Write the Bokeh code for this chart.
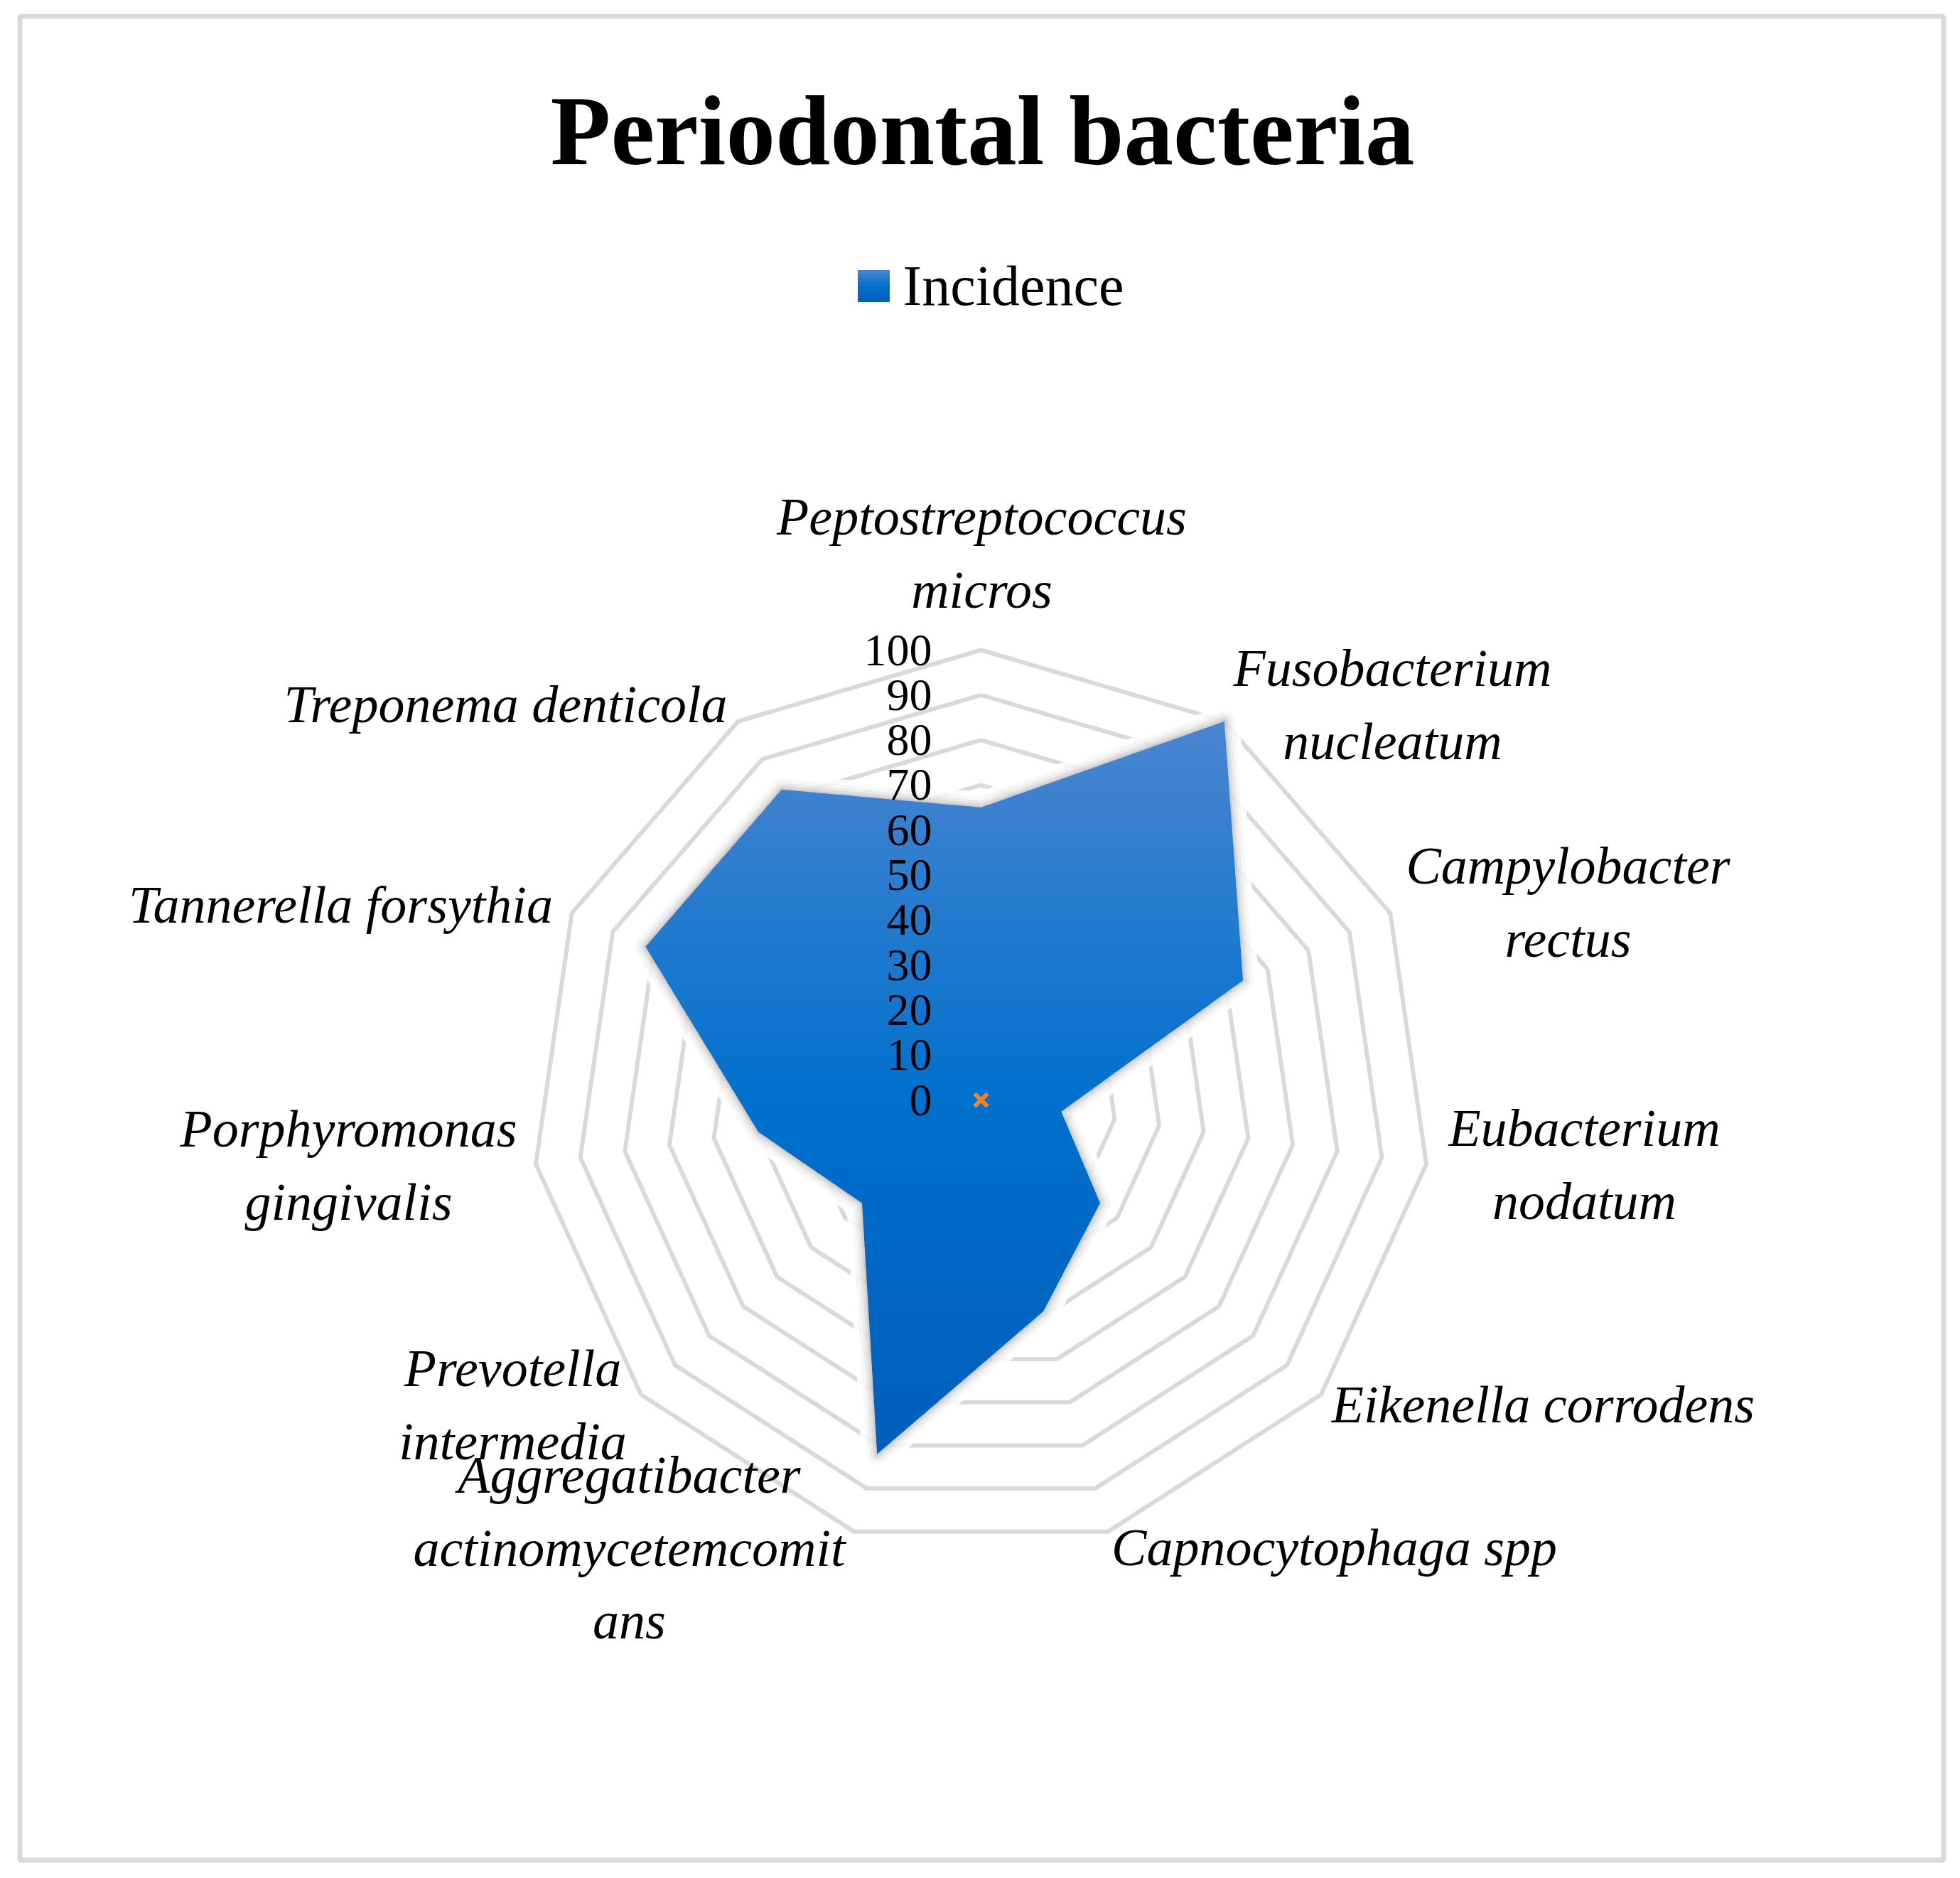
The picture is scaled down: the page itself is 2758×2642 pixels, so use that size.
import math
from bokeh.plotting import figure
from bokeh.models import Range1d, ColumnDataSource
from bokeh.core.properties import value
from bokeh.embed import file_html
from bokeh.resources import INLINE

# ---------------- data ----------------
categories = [
    "Peptostreptococcus\nmicros",
    "Fusobacterium\nnucleatum",
    "Campylobacter\nrectus",
    "Eubacterium\nnodatum",
    "Eikenella corrodens",
    "Capnocytophaga spp",
    "Aggregatibacter\nactinomycetemcomit\nans",
    "Prevotella\nintermedia",
    "Porphyromonas\ngingivalis",
    "Tannerella forsythia",
    "Treponema denticola",
]
incidence = [65, 100, 64, 18, 35, 49, 82, 35, 50, 82, 82]
ticks = [0, 10, 20, 30, 40, 50, 60, 70, 80, 90, 100]
second_series = [0]  # tiny orange series at the centre
series_name = "Incidence"
title_text = "Periodontal bacteria"

# ---------------- layout helpers (reference pixel -> data units) ----------------
S = 6.33          # pixels per unit of value
CX, CY = 1380, 1547
W, H = 2742, 2626


def ux(px):
    return (px - CX) / S


def uy(py):
    return (CY - py) / S


n = len(categories)
angles = [2 * math.pi * i / n for i in range(n)]


def polar(r, a):
    return r * math.sin(a), r * math.cos(a)


FONT = "Liberation Serif"

p = figure(width=W, height=H, output_backend="svg", toolbar_location=None,
           x_range=Range1d(ux(0), ux(W)), y_range=Range1d(uy(H), uy(0)),
           x_axis_type=None, y_axis_type=None, min_border=0)
p.grid.visible = False
p.outline_line_color = None
p.background_fill_color = "white"
p.border_fill_color = "white"

# outer chart border
p.quad(left=[ux(27.5)], right=[ux(2734.5)], top=[uy(22.5)], bottom=[uy(2616.5)],
       fill_color=None, line_color="#D9D9D9", line_width=7)

# grid rings
for r in ticks[1:]:
    xs = [polar(r, a)[0] for a in angles] + [polar(r, angles[0])[0]]
    ys = [polar(r, a)[1] for a in angles] + [polar(r, angles[0])[1]]
    p.line(xs, ys, line_color="#D9D9D9", line_width=6)

# data polygon
poly = [polar(v, a) for v, a in zip(incidence, angles)]
px_ = [q[0] for q in poly]
py_ = [q[1] for q in poly]

# soft shadow: white halo hiding the grid, then a grey blur near the edge
p.patch(px_, py_, fill_color=None, line_color="white", line_alpha=0.85,
        line_width=44, line_join="round")
for w_, al in [(30, 0.03), (20, 0.045), (12, 0.06), (5, 0.08)]:
    p.patch(px_, py_, fill_color=None, line_color="black", line_alpha=al,
            line_width=w_, line_join="round")


def grad_color(t):
    stops = [(0.0, (74, 134, 208)), (0.52, (0, 112, 205)), (1.0, (0, 95, 186))]
    for (t0, c0), (t1, c1) in zip(stops[:-1], stops[1:]):
        if t <= t1:
            f = (t - t0) / (t1 - t0) if t1 > t0 else 0
            c = [round(c0[k] + f * (c1[k] - c0[k])) for k in range(3)]
            return "#%02x%02x%02x" % tuple(c)
    return "#%02x%02x%02x" % stops[-1][1]


def clip(pts, y0, keep_above):
    out = []
    m = len(pts)
    for i in range(m):
        cur, prev = pts[i], pts[i - 1]
        cin = cur[1] >= y0 if keep_above else cur[1] <= y0
        pin = prev[1] >= y0 if keep_above else prev[1] <= y0
        if cin != pin:
            t = (y0 - prev[1]) / (cur[1] - prev[1])
            out.append((prev[0] + t * (cur[0] - prev[0]), y0))
        if cin:
            out.append(cur)
    return out


# vertical gradient fill: the polygon cut into thin horizontal slices
ymax, ymin = max(py_), min(py_)
NB = 70
overlap = 0.35
bx, by, bc = [], [], []
for b in range(NB):
    hi = ymax - (ymax - ymin) * b / NB
    lo = ymax - (ymax - ymin) * (b + 1) / NB - (overlap if b < NB - 1 else 0)
    part = clip(poly, hi, False)
    if part:
        part = clip(part, lo, True)
    if len(part) >= 3:
        bx.append([q[0] for q in part])
        by.append([q[1] for q in part])
        bc.append(grad_color((b + 0.5) / NB))
p.patches(xs="xs", ys="ys", fill_color="c", line_color=None,
          source=ColumnDataSource(dict(xs=bx, ys=by, c=bc)))

# small orange series marker at the centre
p.scatter(x=[0 for _ in second_series], y=second_series, marker="x", size=26,
          line_color="#F47F25", line_width=6)

# radial tick labels
p.text(x=[ux(1311)] * len(ticks), y=ticks, text=[str(t) for t in ticks],
       text_align="right", text_baseline="middle", text_color="black",
       text_font=value(FONT), text_font_size="64px")

# category labels
label_pos = [(1381, 778), (1959, 991), (2206, 1269), (2229, 1638), (2171, 1975),
             (1877, 2176), (885, 2177), (721, 1976), (490, 1639), (479, 1272),
             (711, 990)]
p.text(x=[ux(a) for a, b in label_pos], y=[uy(b) for a, b in label_pos],
       text=categories, text_align="center", text_baseline="middle",
       text_color="black", text_font=value(FONT), text_font_style="italic",
       text_font_size="74px", text_line_height=1.25)

# title
p.text(x=[ux(1382)], y=[uy(183)], text=[title_text], text_align="center",
       text_baseline="middle", text_color="black", text_font=value(FONT),
       text_font_style="bold", text_font_size="139px")

# legend
LB = 8
lx0, lx1, ly0, ly1 = 1207, 1251, 380, 424
p.quad(left=[ux(lx0)] * LB, right=[ux(lx1)] * LB,
       top=[uy(ly0 + (ly1 - ly0) * k / LB) for k in range(LB)],
       bottom=[uy(ly0 + (ly1 - ly0) * (k + 1) / LB) for k in range(LB)],
       fill_color=[grad_color((k + 0.5) / LB) for k in range(LB)],
       line_color=[grad_color((k + 0.5) / LB) for k in range(LB)], line_width=1)
p.text(x=[ux(1270)], y=[uy(401)], text=[series_name], text_align="left",
       text_baseline="middle", text_color="black", text_font=value(FONT),
       text_font_size="80px")

open("out.html", "w").write(file_html(p, INLINE))
